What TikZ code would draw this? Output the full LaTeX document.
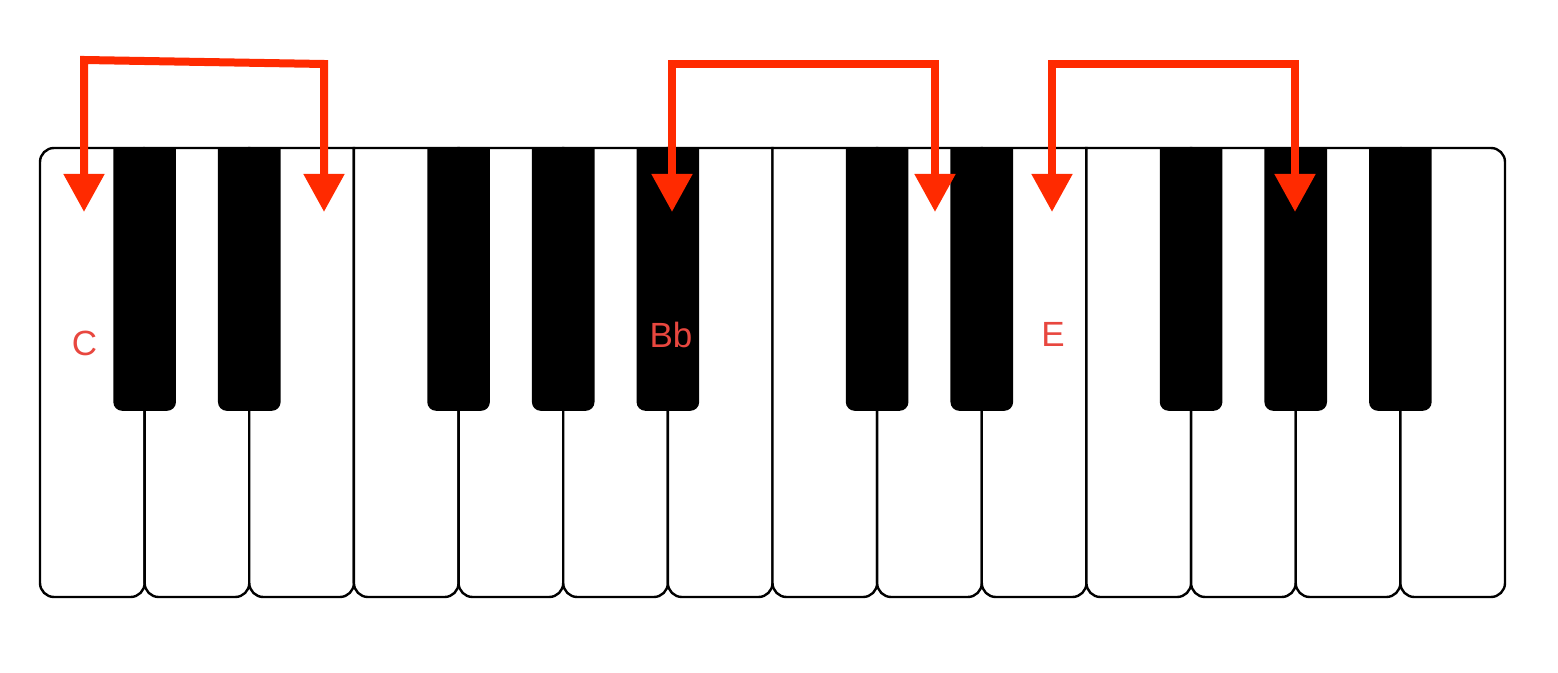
\documentclass[tikz,border=0pt]{standalone}
\usepackage{fontspec}
\setmainfont{Liberation Sans}
\usetikzlibrary{arrows.meta}
\definecolor{arrowred}{HTML}{FF2A00}
\definecolor{labelred}{HTML}{E8473F}
\tikzset{
  whitekey/.style={draw=black, line width=1.2pt, fill=white},
  blackkey/.style={draw=black, line width=0.8pt, fill=black},
  jump/.style={draw=arrowred, line width=4pt, line join=miter,
    {Triangle[length=19pt,width=19.5pt]}-{Triangle[length=19pt,width=19.5pt]}},
  notelabel/.style={text=labelred, font=\fontsize{17.5pt}{20pt}\selectfont, inner sep=0pt, anchor=center}
}
\begin{document}
\begin{tikzpicture}[x=0.5pt,y=-0.5pt]
\useasboundingbox (0,0) rectangle (1558,673);
\fill[white] (0,0) rectangle (1558,673);
% white keys
\pgfmathsetmacro{\kw}{(1505-40)/14}
\foreach \i in {0,...,13}{
  \pgfmathsetmacro{\xl}{40+\i*\kw}
  \pgfmathsetmacro{\xr}{40+(\i+1)*\kw}
  \ifnum\i=0
    \draw[whitekey, rounded corners=7pt] (\xr,148) -- (\xl,148) -- (\xl,597) -- (\xr,597) [sharp corners] -- (\xr,148);
  \else\ifnum\i=13
    \draw[whitekey, rounded corners=7pt] (\xl,148) -- (\xr,148) -- (\xr,597) -- (\xl,597) [sharp corners] -- (\xl,148);
  \else
    \draw[whitekey] (\xl,148) -- (\xr,148) [rounded corners=7pt] -- (\xr,597) -- (\xl,597) [sharp corners] -- cycle;
  \fi\fi
}
% black keys centred on boundaries
\foreach \b in {1,2,4,5,6,8,9,11,12,13}{
  \pgfmathsetmacro{\bc}{40+\b*\kw}
  \draw[blackkey] (\bc-30.5,148) [rounded corners=4pt] -- (\bc-30.5,410) -- (\bc+30.5,410) [sharp corners] -- (\bc+30.5,148) -- cycle;
}
% labels
\node[notelabel] (lC) at (84.5,343.5) {C};
\node[notelabel] (lBb) at (671,334.5) {Bb};
\node[notelabel] (lE) at (1053,334.5) {E};
% arrow anchors
\coordinate (a1s) at (84,212);
\coordinate (a1u) at (84,60);
\coordinate (a1v) at (324,64);
\coordinate (a1e) at (324,212);
\coordinate (a2s) at (672,212);
\coordinate (a2u) at (672,64);
\coordinate (a2v) at (935,64);
\coordinate (a2e) at (935,212);
\coordinate (a3s) at (1052,212);
\coordinate (a3u) at (1052,64);
\coordinate (a3v) at (1295,64);
\coordinate (a3e) at (1295,212);
\draw[jump] (a1s) -- (a1u) -- (a1v) -- (a1e);
\draw[jump] (a2s) -- (a2u) -- (a2v) -- (a2e);
\draw[jump] (a3s) -- (a3u) -- (a3v) -- (a3e);
\end{tikzpicture}
\end{document}
